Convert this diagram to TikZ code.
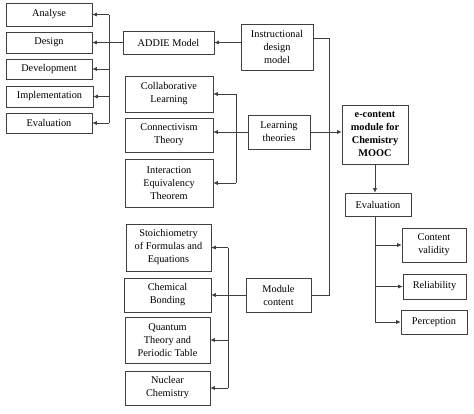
\documentclass[tikz,border=0pt]{standalone}
\usepackage{fontspec}
\setmainfont{Liberation Serif}
\usetikzlibrary{arrows.meta}
\begin{document}
\begin{tikzpicture}[x=1pt,y=-1pt,
  box/.style={draw=black!75,line width=0.6pt,align=center,inner sep=1pt,
    font=\fontsize{10.3}{13}\selectfont},
  ln/.style={draw=black!75,line width=0.6pt},
  arr/.style={ln,-{Latex[length=4.5pt,width=4pt]}}]
\useasboundingbox (0,0) rectangle (474,413);
% left column
\node[box,minimum width=86pt,minimum height=23pt] (analyse) at (49,14.5) {Analyse};
\node[box,minimum width=86pt,minimum height=21pt] (design) at (49,42.5) {Design};
\node[box,minimum width=86pt,minimum height=20pt] (develop) at (49,69) {Development};
\node[box,minimum width=87pt,minimum height=21pt] (implem) at (49.5,96.5) {Implementation};
\node[box,minimum width=86pt,minimum height=20pt] (evalA) at (49,123) {Evaluation};
% middle column
\node[box,minimum width=91pt,minimum height=23pt] (addie) at (168.5,42.5) {ADDIE Model};
\node[box,minimum width=88pt,minimum height=36pt] (collab) at (169,94) {Collaborative\\Learning};
\node[box,minimum width=88pt,minimum height=34pt] (connect) at (169,135) {Connectivism\\Theory};
\node[box,minimum width=88pt,minimum height=48pt] (interact) at (169,183) {Interaction\\Equivalency\\Theorem};
\node[box,minimum width=85pt,minimum height=47pt] (stoich) at (168.5,247.5) {Stoichiometry\\of Formulas and\\Equations};
\node[box,minimum width=87pt,minimum height=34pt] (chem) at (167.5,295) {Chemical\\Bonding};
\node[box,minimum width=85pt,minimum height=46pt] (quantum) at (167.5,340) {Quantum\\Theory and\\Periodic Table};
\node[box,minimum width=85pt,minimum height=34pt] (nuclear) at (167.5,388) {Nuclear\\Chemistry};
% third column
\node[box,minimum width=72pt,minimum height=46pt] (instr) at (277,47) {Instructional\\design\\model};
\node[box,minimum width=62pt,minimum height=34pt] (learning) at (279,132) {Learning\\theories};
\node[box,minimum width=65pt,minimum height=34pt] (module) at (278.5,295) {Module\\content};
% right column
\node[box,minimum width=66pt,minimum height=59pt,font=\fontsize{10.3}{13}\selectfont\bfseries] (econtent) at (375,134.5) {e-content\\module for\\Chemistry\\MOOC};
\node[box,minimum width=66pt,minimum height=23pt] (evalB) at (378,204.5) {Evaluation};
\node[box,minimum width=64pt,minimum height=34pt] (content) at (434,245) {Content\\validity};
\node[box,minimum width=63pt,minimum height=25pt] (reliab) at (434.5,286.5) {Reliability};
\node[box,minimum width=66pt,minimum height=24pt] (percep) at (434,322) {Perception};
% coordinates for buses
\coordinate (busA) at (109,0);
\coordinate (busL) at (236,0);
\coordinate (busM) at (228,0);
\coordinate (trunk) at (329,38);
\coordinate (busE) at (375,0);
% ADDIE bus
\draw[arr] (addie.west) -- (design.east);
\draw[ln] (busA |- analyse) -- (busA |- evalA);
\draw[arr] (busA |- analyse) -- (analyse.east);
\draw[arr] (busA |- develop) -- (develop.east);
\draw[arr] (busA |- implem) -- (implem.east);
\draw[arr] (busA |- evalA) -- (evalA.east);
% instructional
\draw[arr] (instr.west |- addie) -- (addie.east);
\draw[ln] (instr.east |- trunk) -- (trunk) |- (module.east);
% learning theories
\draw[arr] (learning.west) -- (learning.west -| connect.east);
\draw[ln] (busL |- collab) -- (busL |- interact);
\draw[arr] (busL |- collab) -- (collab.east);
\draw[arr] (busL |- interact) -- (interact.east);
\draw[arr] (learning.east) -- (learning.east -| econtent.west);
% module content
\draw[arr] (module.west) -- (module.west -| chem.east);
\draw[ln] (busM |- stoich) -- (busM |- nuclear);
\draw[arr] (busM |- stoich) -- (stoich.east);
\draw[arr] (busM |- quantum) -- (quantum.east);
\draw[arr] (busM |- nuclear) -- (nuclear.east);
% evaluation
\draw[arr] (econtent.south) -- (econtent.south |- evalB.north);
\draw[ln] (busE |- evalB.south) -- (busE |- percep);
\draw[arr] (busE |- content) -- (content.west);
\draw[arr] (busE |- reliab) -- (reliab.west);
\draw[arr] (busE |- percep) -- (percep.west);
\end{tikzpicture}
\end{document}
